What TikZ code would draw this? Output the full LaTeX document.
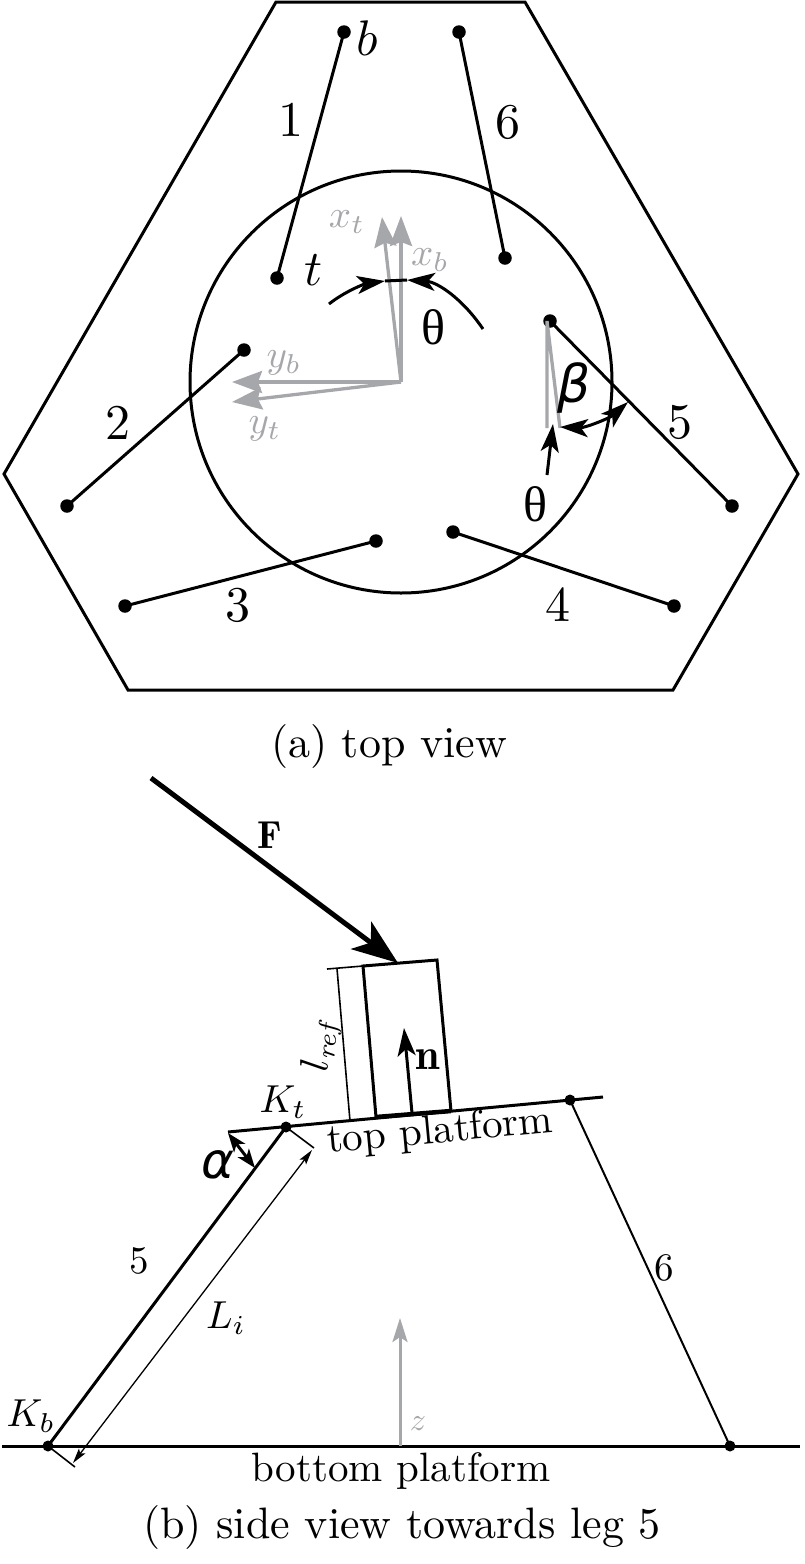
\documentclass[tikz,border=0pt]{standalone}
\usepackage{fontspec}
\usetikzlibrary{arrows.meta}
\newfontfamily\grfont{DejaVu Sans}
\newfontfamily\thfont{Liberation Serif}
\definecolor{gr}{RGB}{165,167,170}
\tikzset{
 thick line/.style={line width=3pt,black},
 thin line/.style={line width=1.6pt,black},
 dotpt/.style={circle,fill=black,inner sep=0pt,minimum size=13.5pt},
 dotsm/.style={circle,fill=black,inner sep=0pt,minimum size=11pt},
 lab/.style={scale=5.0,inner sep=0pt,text=black},
 labside/.style={scale=3.9,inner sep=0pt,text=black},
 capt/.style={scale=4.4,inner sep=0pt,text=black},
 plat/.style={scale=4.1,inner sep=0pt,text=black},
 glab/.style={scale=3.9,inner sep=0pt,text=gr},
 grarrow/.style={line width=3.3pt,gr,-{Stealth[length=30pt,width=22pt,inset=4pt]}},
 blackarrow/.style={line width=3pt,black,-{Stealth[length=28pt,width=18pt,inset=7pt]}},
 dimarrow/.style={line width=1.3pt,black,{Stealth[length=15pt,width=8pt,inset=3pt]}-{Stealth[length=15pt,width=8pt,inset=3pt]}},
}
\begin{document}
\begin{tikzpicture}[x=1pt,y=-1pt]
\useasboundingbox (0,0) rectangle (804,1564);
% --- top view
\draw[thick line,line join=miter] (276,2)--(525,2)--(798,474)--(673,690)--(128,690)--(4,474)--cycle;
\node[draw,thick line,circle,inner sep=0pt,minimum size=422pt] (platc) at (401,382) {};
\node[dotpt] (b1) at (344,32) {};
\node[dotpt] (t1) at (277,278) {};
\node[dotpt] (b6) at (459,32) {};
\node[dotpt] (t6) at (505,258) {};
\node[dotpt] (t2) at (244,350) {};
\node[dotpt] (b2) at (67,506) {};
\node[dotpt] (b3) at (125,606) {};
\node[dotpt] (t3) at (376,541) {};
\node[dotpt] (t4) at (453,532) {};
\node[dotpt] (b4) at (674,606) {};
\node[dotpt] (t5) at (550,321) {};
\node[dotpt] (b5) at (732,506) {};
\foreach \a/\c in {b1/t1,b6/t6,t2/b2,b3/t3,t4/b4,t5/b5}
  \draw[thick line] (\a.center)--(\c.center);
\node[lab] (lb) at (367,38) {$b$};
\node[lab] (lt) at (314,270) {$t$};
\node[lab] (n1) at (291,120) {1};
\node[lab] (n6) at (508,122) {6};
\node[lab] (n2) at (118,423) {2};
\node[lab] (n3) at (238,605) {3};
\node[lab] (n4) at (558,605) {4};
\node[lab] (n5) at (680,422) {5};
% frames
\coordinate (o) at (401,382);
\coordinate (xb) at (401,216);
\coordinate (xt) at (382,217);
\coordinate (yb) at (232,382);
\coordinate (yt) at (232,402);
\foreach \e in {xb,xt,yb,yt} \draw[grarrow] (o)--(\e);
\node[glab] (lxt) at (347,222) {$x_t$};
\node[glab] (lxb) at (430,260) {$x_b$};
\node[glab] (lyb) at (284,363) {$y_b$};
\node[glab] (lyt) at (265,429) {$y_t$};
% theta arcs
\coordinate (a1) at (329,304);
\coordinate (a2) at (385,281);
\coordinate (a3) at (483,329);
\coordinate (a4) at (407,280);
\draw[blackarrow] (a1) .. controls (344,292) and (364,284) .. (a2);
\draw[blackarrow] (a3) .. controls (462,298) and (437,282) .. (a4);
\draw[thick line] (a2)--(a4);
\node[scale=5.0,inner sep=0pt] (th1) at (433,327) {\thfont θ};
% beta
\coordinate (g0) at (547,321);
\coordinate (g1) at (547,428);
\coordinate (g2) at (560,428);
\draw[line width=3.3pt,gr,line join=miter] (g1)--(g0)--(g2);
\coordinate (c1) at (560,427);
\coordinate (c2) at (628,402);
\draw[line width=3pt,black,{Stealth[length=28pt,width=18pt,inset=7pt]}-{Stealth[length=28pt,width=18pt,inset=7pt]}] (c1) .. controls (585,428) and (610,418) .. (c2);
\node[scale=5.2,inner sep=0pt] (lbeta) at (574,388) {\grfont\itshape β};
\coordinate (th0) at (547,475);
\coordinate (th2) at (553,424);
\draw[blackarrow] (th0)--(th2);
\node[scale=5.0,inner sep=0pt] (th3) at (535,504) {\thfont θ};
\node[capt] (capa) at (389,746) {(a) top view};
% --- side view
\coordinate (F0) at (151,778);
\coordinate (F1) at (398,963);
\draw[line width=5pt,black,-{Stealth[length=46pt,width=34pt,inset=12pt]}] (F0)--(F1);
\node[scale=3.9,inner sep=0pt] (lF) at (270,835) {$\mathbf{F}$};
\coordinate (pl) at (228,1132);
\coordinate (pr) at (603,1097);
\draw[thick line] (pl)--(pr);
\coordinate (r1) at (363,966);
\coordinate (r2) at (437,960);
\coordinate (r3) at (451,1111);
\coordinate (r4) at (376,1117);
\draw[thick line] (r4)--(r1)--(r2)--(r3);
\draw[line width=4.5pt] (r4)--(r3);
\coordinate (e0) at (327,969);
\draw[thin line] (e0)--(r1);
\coordinate (e1) at (337,968.5);
\coordinate (e2) at (350,1121);
\draw[thin line] (e1)--(e2);
\node[scale=4.0,inner sep=0pt,rotate=85] (lref) at (321,1048) {$l$\raisebox{-1.5pt}{\fontsize{6.5}{7}\selectfont\itshape ref}};
\coordinate (n0) at (412,1113);
\coordinate (n1t) at (404,1028);
\draw[blackarrow] (n0)--(n1t);
\node[scale=4.4,inner sep=0pt] (ln) at (428,1060) {$\mathbf{n}$};
\node[dotsm] (kt) at (286,1127) {};
\node[dotsm] (rt) at (570,1100) {};
\node[dotsm] (kb) at (48,1446) {};
\node[dotsm] (rb) at (730,1446) {};
\coordinate (bl) at (2,1446);
\coordinate (br) at (800,1446);
\draw[thick line] (bl)--(br);
\draw[thick line] (kb.center)--(kt.center);
\draw[line width=2pt] (rt.center)--(rb.center);
\coordinate (tk1) at (314,1148);
\coordinate (tk2) at (75,1467);
\draw[thin line] (kt.center)--(tk1);
\draw[thin line] (kb.center)--(tk2);
\coordinate (d1) at (312,1150);
\coordinate (d2) at (73,1463);
\draw[dimarrow] (d1)--(d2);
\coordinate (al1) at (228,1133);
\coordinate (al2) at (255,1168);
\draw[line width=3pt,black,{Stealth[length=19pt,width=14pt,inset=5pt]}-{Stealth[length=19pt,width=14pt,inset=5pt]}] (al1)--(al2);
\node[scale=5.0,inner sep=0pt] (lal) at (218,1165) {\grfont\itshape α};
\node[labside] (lkt) at (283,1102) {$K_t$};
\node[labside] (lkb) at (31,1416) {$K_b$};
\node[plat,rotate=5.3] (ltop) at (440,1132) {top platform};
\node[plat] (lbot) at (401,1471) {bottom platform};
\node[labside] (n5s) at (139,1261) {5};
\node[labside] (n6s) at (664,1268) {6};
\node[labside] (lLi) at (226,1318) {$L_i$};
\coordinate (z0) at (400,1446);
\coordinate (z1) at (400,1318);
\draw[line width=3pt,gr,-{Stealth[length=24pt,width=15pt,inset=5pt]}] (z0)--(z1);
\node[scale=3.2,inner sep=0pt,text=gr] (lz) at (418,1424) {$z$};
\node[capt] (capb) at (402,1527) {(b) side view towards leg 5};
\end{tikzpicture}
\end{document}
